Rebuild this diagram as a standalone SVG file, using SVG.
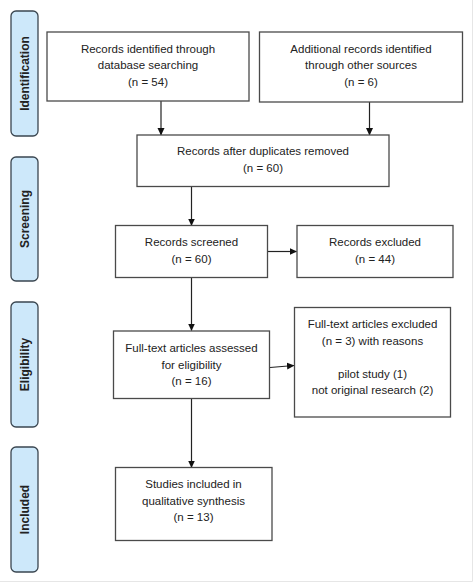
<svg xmlns="http://www.w3.org/2000/svg" width="474" height="583" viewBox="0 0 474 583">
<defs>
<style>
.box{fill:#fff;stroke:#4a4a4a;stroke-width:1.3}
.side{fill:#cde8fa;stroke:#3a4650;stroke-width:1.3}
.t{font-family:"Liberation Sans",Arial,sans-serif;font-size:11.5px;fill:#222;text-anchor:middle}
.s{font-family:"Liberation Sans",Arial,sans-serif;font-size:12px;font-weight:bold;fill:#222;text-anchor:middle}
.c{stroke:#222;stroke-width:1.2;fill:none;marker-end:url(#ah)}
</style>
<marker id="ah" markerWidth="8" markerHeight="8" refX="7" refY="4" orient="auto" markerUnits="userSpaceOnUse">
<path d="M0,0.5 L7.5,4 L0,7.5 Z" fill="#111"/>
</marker>
</defs>
<rect width="474" height="583" fill="#fff"/>
<polyline points="472.5,0 472.5,581.5 0,581.5" fill="none" stroke="#e6e6e6" stroke-width="1"/>

<g id="phase-identification">
<rect class="side" x="11" y="11" width="27" height="125" rx="5"/>
<text class="s" transform="translate(29,73.5) rotate(-90)">Identification</text>
</g>
<g id="phase-screening">
<rect class="side" x="11" y="157" width="27" height="124" rx="5"/>
<text class="s" transform="translate(29,219) rotate(-90)">Screening</text>
</g>
<g id="phase-eligibility">
<rect class="side" x="11" y="302" width="27" height="125" rx="5"/>
<text class="s" transform="translate(29,364.5) rotate(-90)">Eligibility</text>
</g>
<g id="phase-included">
<rect class="side" x="11" y="447" width="27" height="125" rx="5"/>
<text class="s" transform="translate(29,509.5) rotate(-90)">Included</text>
</g>

<g id="connectors">
<line class="c" x1="161" y1="101" x2="161" y2="135"/>
<line class="c" x1="369.5" y1="102" x2="369.5" y2="135"/>
<line class="c" x1="191.5" y1="186.5" x2="191.5" y2="225.5"/>
<line class="c" x1="268" y1="251.5" x2="296.5" y2="251.5"/>
<line class="c" x1="191.5" y1="277.5" x2="191.5" y2="330.5"/>
<line class="c" x1="270" y1="367.5" x2="294" y2="365.5"/>
<line class="c" x1="191.5" y1="399" x2="191.5" y2="467.5"/>
</g>

<g id="node-db">
<rect class="box" x="47" y="32" width="202" height="69"/>
<text class="t" x="148" y="52.5">Records identified through</text>
<text class="t" x="148" y="69">database searching</text>
<text class="t" x="148" y="85.5">(n = 54)</text>
</g>
<g id="node-other">
<rect class="box" x="259.5" y="32" width="203" height="70"/>
<text class="t" x="361" y="52.5">Additional records identified</text>
<text class="t" x="361" y="69">through other sources</text>
<text class="t" x="361" y="85.5">(n = 6)</text>
</g>
<g id="node-dedup">
<rect class="box" x="137" y="135" width="252" height="51.5"/>
<text class="t" x="263" y="155">Records after duplicates removed</text>
<text class="t" x="263" y="172">(n = 60)</text>
</g>
<g id="node-screened">
<rect class="box" x="115.5" y="225.5" width="152" height="52"/>
<text class="t" x="191.5" y="246">Records screened</text>
<text class="t" x="191.5" y="263">(n = 60)</text>
</g>
<g id="node-excluded">
<rect class="box" x="297" y="225.5" width="156" height="52"/>
<text class="t" x="375" y="246">Records excluded</text>
<text class="t" x="375" y="263">(n = 44)</text>
</g>
<g id="node-fulltext">
<rect class="box" x="113.5" y="331" width="156" height="67.5"/>
<text class="t" x="191.5" y="352">Full-text articles assessed</text>
<text class="t" x="191.5" y="368.5">for eligibility</text>
<text class="t" x="191.5" y="385">(n = 16)</text>
</g>
<g id="node-ft-excluded">
<rect class="box" x="294.5" y="307.5" width="156" height="109.5"/>
<text class="t" x="372.5" y="328">Full-text articles excluded</text>
<text class="t" x="372.5" y="344.5">(n = 3) with reasons</text>
<text class="t" x="372.5" y="377.5">pilot study (1)</text>
<text class="t" x="372.5" y="394">not original research (2)</text>
</g>
<g id="node-included">
<rect class="box" x="115.5" y="467.5" width="156.5" height="73"/>
<text class="t" x="193.5" y="488">Studies included in</text>
<text class="t" x="193.5" y="504.5">qualitative synthesis</text>
<text class="t" x="193.5" y="521">(n = 13)</text>
</g>
</svg>
